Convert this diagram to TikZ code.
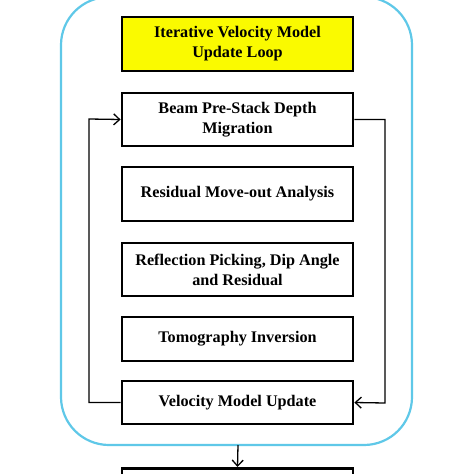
\documentclass[tikz,border=0pt]{standalone}
\usepackage{fontspec}
\setmainfont{Liberation Serif}
\usetikzlibrary{arrows.meta}
\definecolor{loopblue}{RGB}{95,200,232}
\definecolor{boxyellow}{RGB}{250,250,0}
\begin{document}
\begin{tikzpicture}[x=1pt,y=-1pt,
  stepbox/.style={draw=black,line width=2.8pt,fill=white,minimum width=231pt,align=center,font=\bfseries\fontsize{16.2}{20}\selectfont,inner sep=0pt},
  conn/.style={line width=1.3pt,-{Straight Barb[length=6pt,width=11pt,line width=1.3pt]}}]
\clip (0,0) rectangle (474,474);
\fill[white] (0,0) rectangle (474,474);
\draw[loopblue,line width=2.2pt,rounded corners=48pt] (61,-3) rectangle (412,445);
\node[stepbox,fill=boxyellow,minimum height=54pt] (title) at (237.5,44) {Iterative Velocity Model\\Update Loop};
\node[stepbox,minimum height=53pt] (beam) at (237.5,119.5) {Beam Pre-Stack Depth\\Migration};
\node[stepbox,minimum height=54pt] (rmo) at (237.5,194) {Residual Move-out Analysis};
\node[stepbox,minimum height=53pt] (pick) at (237.5,269.5) {Reflection Picking, Dip Angle\\and Residual};
\node[stepbox,minimum height=44pt] (tomo) at (237.5,339) {Tomography Inversion};
\node[stepbox,minimum height=43pt] (vmu) at (237.5,402.5) {Velocity Model Update};
\node[stepbox,minimum height=40pt,anchor=north] (next) at (237.5,467) {};
\coordinate (blueb) at (238,445);
\draw[conn] (vmu.west) -| (89,119) -- (beam.west);
\draw[conn] (beam.east) -| (385,403) -- (vmu.east);
\draw[conn] (blueb) -- (next.north);
\end{tikzpicture}
\end{document}
